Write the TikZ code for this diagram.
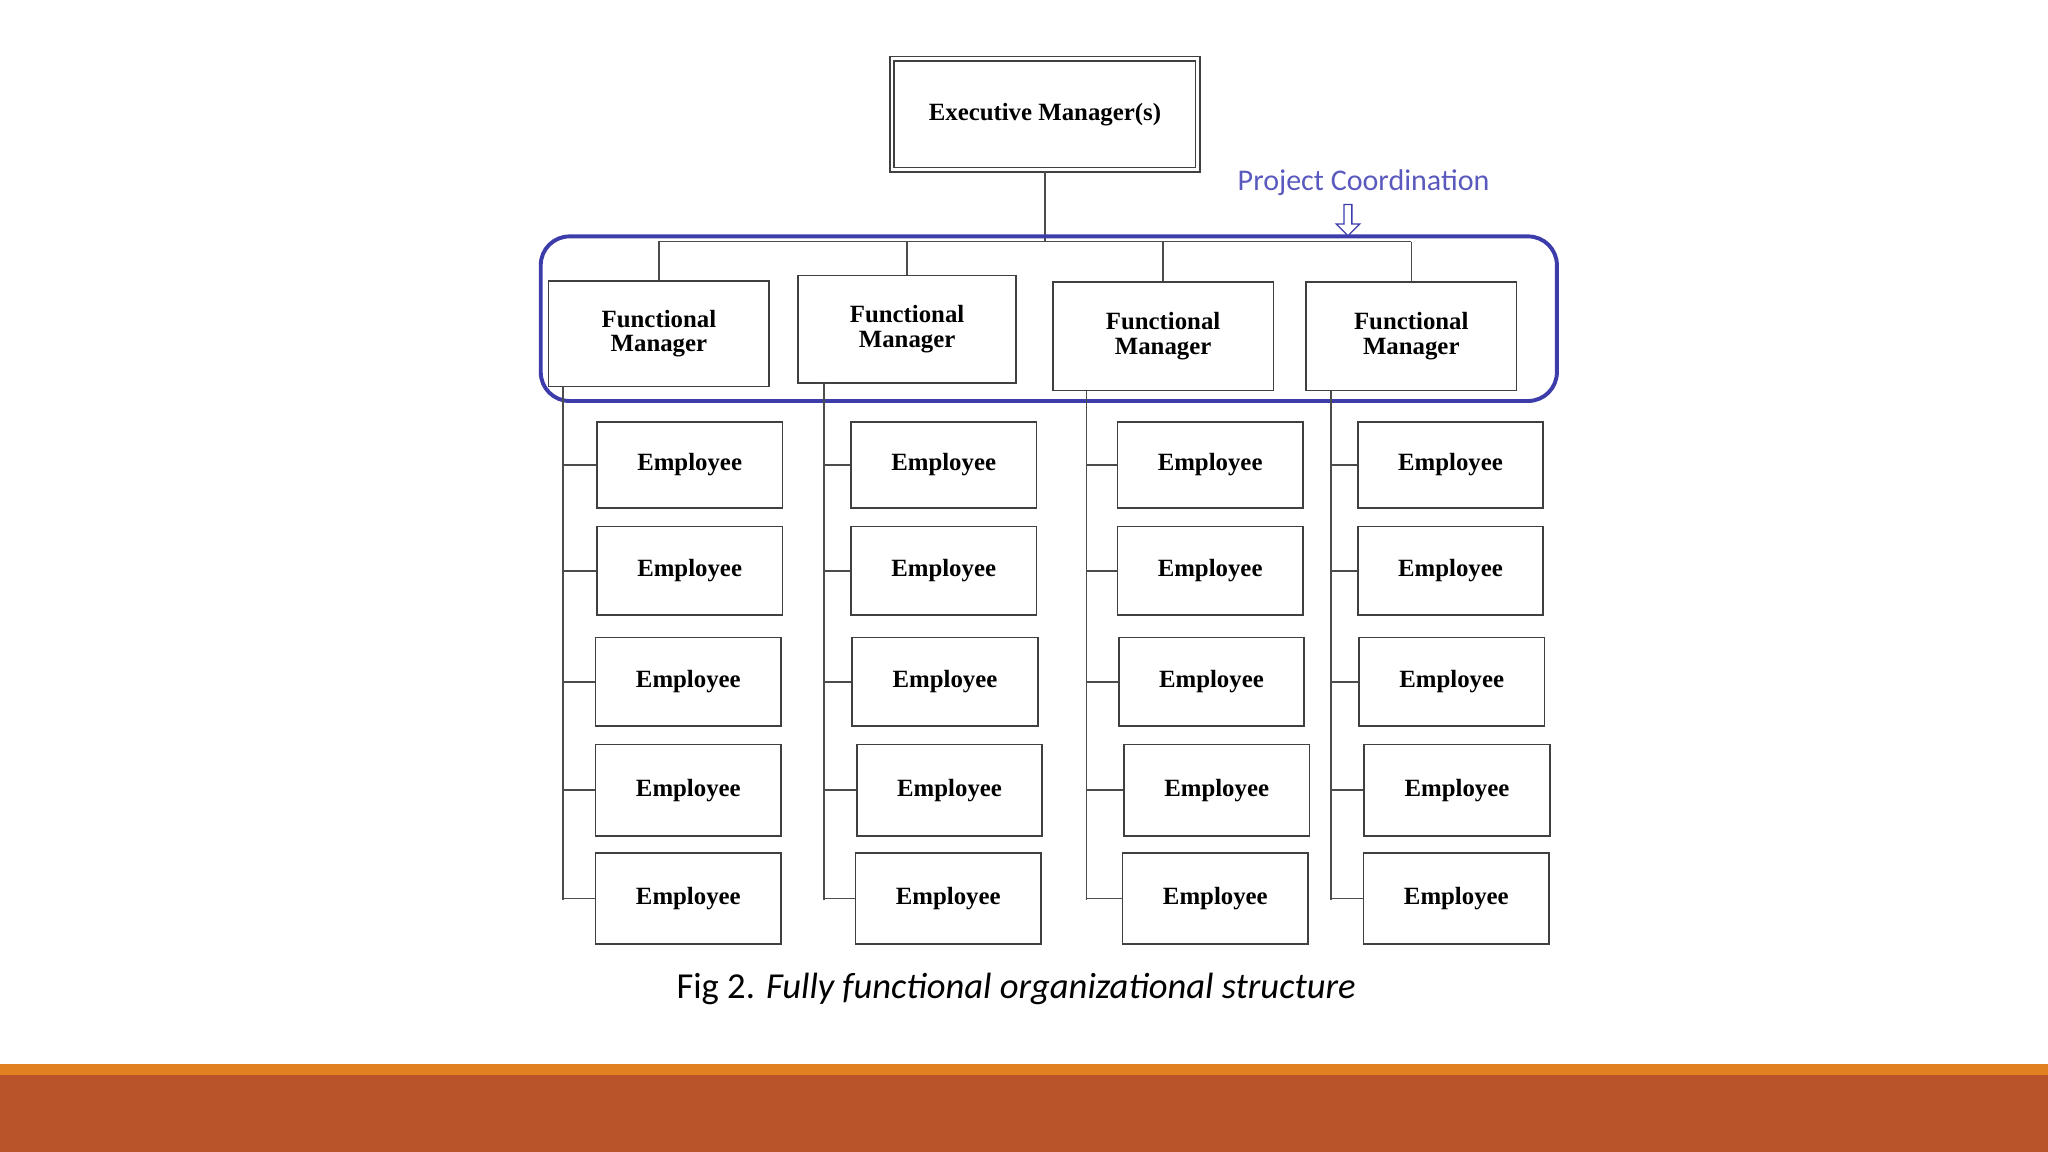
\documentclass[tikz,border=0pt]{standalone}
\usepackage{fontspec}
\setmainfont{Liberation Serif}
\newfontfamily\carfont{Carlito}
\usetikzlibrary{shapes.arrows}
\definecolor{pblue}{RGB}{60,60,170}
\definecolor{ptext}{RGB}{90,90,190}
\definecolor{orline}{RGB}{224,128,32}
\definecolor{orbar}{RGB}{185,83,42}
\begin{document}
\begin{tikzpicture}[x=1pt,y=-1pt,
  bx/.style={draw=black!75,line width=1.3pt,fill=white,font=\fontsize{19}{21}\selectfont\bfseries,align=center,inner sep=0pt},
  ln/.style={draw=black!70,line width=1.2pt}]
\useasboundingbox (0,0) rectangle (1568,882);
\fill[orline] (0,815) rectangle (1568,823);
\fill[orbar] (0,823) rectangle (1568,882);
% executive
\node[bx,minimum width=234pt,minimum height=85pt,double,double distance=2pt] (ex) at (800,87.5) {Executive Manager(s)};
\coordinate (bus) at (800,185);
\draw[ln] (ex.south) -- (bus);
\draw[ln] (504,185) -- (1080,185);
% blue frame
\draw[pblue,line width=3pt,rounded corners=22pt] (414,181) rectangle (1192,307);
\node[font=\carfont\fontsize{23}{25}\selectfont,text=ptext] (pc) at (1044,140) {Project Coordination};
\node[single arrow,draw=pblue,fill=white,line width=1pt,shape border rotate=270,minimum width=18pt,single arrow head extend=3pt,minimum height=24pt,inner sep=1pt] (ar) at (1032,167) {};
% functional managers
\def\fm#1#2#3#4#5{\node[bx,minimum width=#3pt,minimum height=#4pt] (f#5) at (#1,#2) {Functional\\[-2pt]Manager};
  \draw[ln] (#1,185) -- (f#5.north);}
\fm{504.5}{255.5}{169}{81}{1}
\fm{694.5}{252}{167}{82}{2}
\fm{890.5}{257.5}{169}{83}{3}
\fm{1080.5}{257.5}{161}{83}{4}
% employees
\def\emp#1#2#3#4#5#6{\node[bx,minimum width=#3pt,minimum height=#4pt] (e#5#6) at (#1,#2) {Employee};}
\def\col#1#2#3#4#5#6#7#8{%
  \emp{#2}{356}{142}{66}{#1}{1}
  \emp{#3}{437}{142}{68}{#1}{2}
  \emp{#4}{522}{142}{68}{#1}{3}
  \emp{#5}{605}{142}{70}{#1}{4}
  \emp{#6}{688}{142}{70}{#1}{5}
  \coordinate (s#1) at (#7,#8);
  \coordinate (t#1) at (#7,689);
  \draw[ln] (s#1) -- (t#1);
  \foreach \r in {1,...,5}{\draw[ln] (s#1 |- e#1\r.west) -- (e#1\r.west);}
}
\col{1}{528}{528}{527}{527}{527}{431}{296}
\col{2}{722.5}{722.5}{723.5}{727}{726}{631}{293}
\col{3}{926.5}{926.5}{927.5}{931.5}{930.5}{832}{299}
\col{4}{1110.5}{1110.5}{1111.5}{1115.5}{1115}{1019}{299}
\node[font=\carfont\fontsize{28}{30}\selectfont] (cap) at (778,757) {Fig 2. \textit{Fully functional organizational structure}};
\end{tikzpicture}
\end{document}
